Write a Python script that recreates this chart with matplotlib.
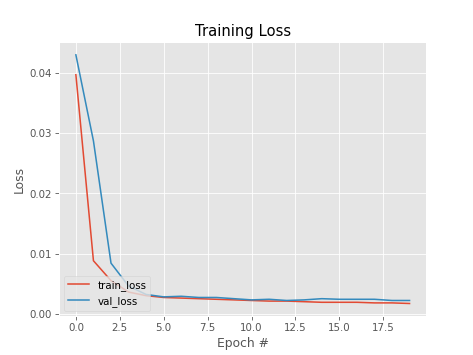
import matplotlib
matplotlib.use("Agg")
import matplotlib.pyplot as plt
import numpy as np

plt.style.use("ggplot")

epochs = np.arange(0, 20)
train_loss = [0.0397, 0.0088, 0.0055, 0.0036, 0.0030, 0.0027, 0.0026, 0.0025,
              0.0024, 0.0023, 0.0022, 0.0021, 0.0021, 0.0020, 0.0019, 0.0019,
              0.0019, 0.0018, 0.0018, 0.0017]
val_loss = [0.0430, 0.0287, 0.0084, 0.0046, 0.0032, 0.0028, 0.0029, 0.0027,
            0.0027, 0.0025, 0.0023, 0.0024, 0.0022, 0.0023, 0.0025, 0.0024,
            0.0024, 0.0024, 0.0022, 0.0022]

fig = plt.figure(figsize=(6.4, 4.8), dpi=74)
plt.plot(epochs, train_loss, label="train_loss")
plt.plot(epochs, val_loss, label="val_loss")
plt.title("Training Loss")
plt.xlabel("Epoch #")
plt.ylabel("Loss")
plt.legend(loc="lower left")
plt.savefig("out.png", dpi=74)
